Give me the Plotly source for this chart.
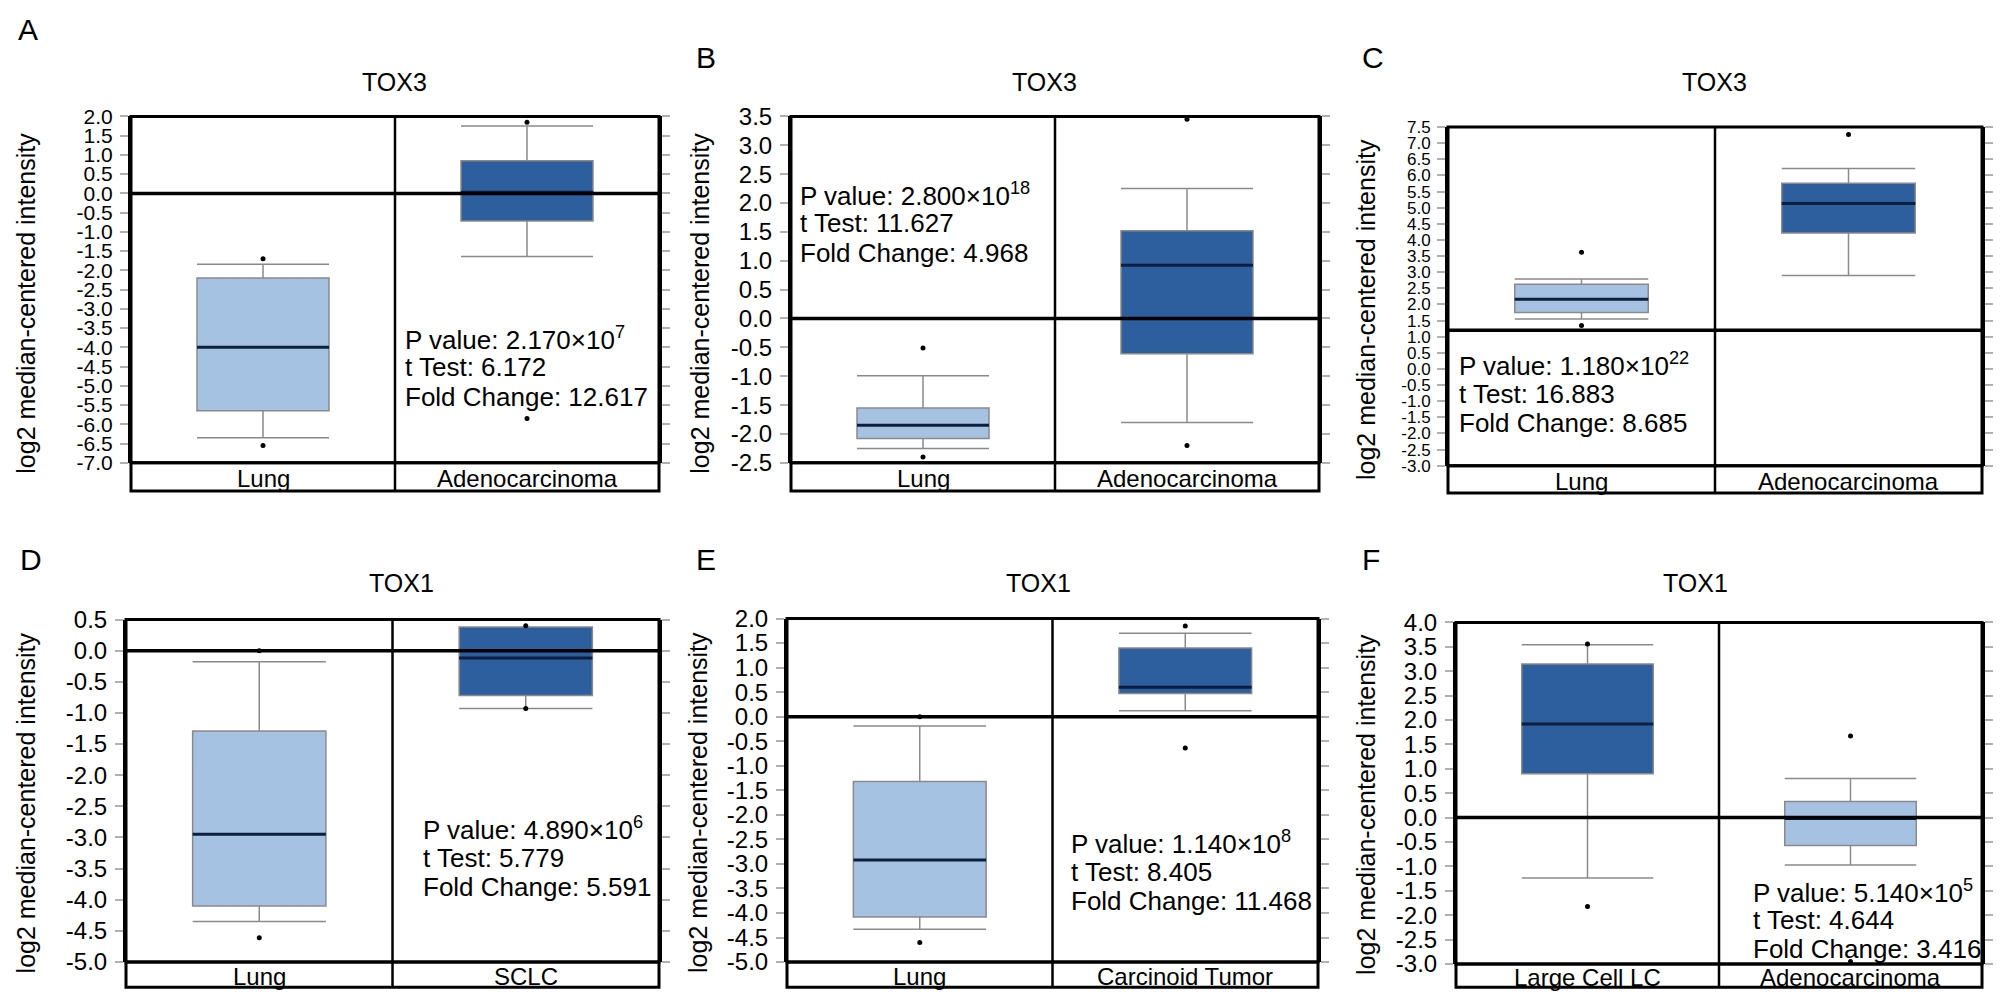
import plotly.graph_objects as go

W, H = 2008, 1005
FONT = "Liberation Sans, Arial, sans-serif"

# ---------------- data ----------------
panel_letters = ["A", "B", "C", "D", "E", "F"]
genes = ["TOX3", "TOX3", "TOX3", "TOX1", "TOX1", "TOX1"]
categories = [
    ["Lung", "Adenocarcinoma"],
    ["Lung", "Adenocarcinoma"],
    ["Lung", "Adenocarcinoma"],
    ["Lung", "SCLC"],
    ["Lung", "Carcinoid Tumor"],
    ["Large Cell LC", "Adenocarcinoma"],
]
q1 = [[-5.65, -0.72], [-2.08, -0.61], [1.75, 4.22], [-4.10, -0.72], [-4.08, 0.47], [0.90, -0.57]]
medians = [[-4.00, 0.03], [-1.85, 0.92], [2.16, 5.13], [-2.95, -0.12], [-2.92, 0.60], [1.92, -0.02]]
q3 = [[-2.20, 0.85], [-1.55, 1.52], [2.63, 5.76], [-1.29, 0.38], [-1.32, 1.40], [3.15, 0.33]]
lower_whisker = [[-6.35, -1.64], [-2.25, -1.80], [1.55, 2.90], [-4.35, -0.93], [-4.33, 0.12], [-1.24, -0.97]]
upper_whisker = [[-1.84, 1.75], [-0.99, 2.25], [2.79, 6.22], [-0.18, 0.38], [-0.19, 1.70], [3.54, 0.80]]
outliers = [
    [[-1.70, -6.55], [1.85, -5.85]],
    [[-0.51, -2.40], [3.45, -2.20]],
    [[3.62, 1.35], [7.27]],
    [[0.00, -4.61], [0.40, -0.93]],
    [[0.00, -4.60], [1.85, -0.64]],
    [[3.56, -1.82], [1.67, -2.95]],
]
box_shade = [
    ["light", "dark"], ["light", "dark"], ["light", "dark"],
    ["light", "dark"], ["light", "dark"], ["dark", "light"],
]
p_values = ["2.170×10<sup>7</sup>", "2.800×10<sup>18</sup>", "1.180×10<sup>22</sup>",
            "4.890×10<sup>6</sup>", "1.140×10<sup>8</sup>", "5.140×10<sup>5</sup>"]
t_tests = ["6.172", "11.627", "16.883", "5.779", "8.405", "4.644"]
fold_changes = ["12.617", "4.968", "8.685", "5.591", "11.468", "3.416"]
y_ranges = [[-7.0, 2.0], [-2.5, 3.5], [-3.0, 7.5], [-5.0, 0.5], [-5.0, 2.0], [-3.0, 4.0]]
ref_lines = [0.0, 0.0, 1.2, 0.0, 0.0, 0.0]

# ---------------- layout geometry (pixels) ----------------
# left, right, top, axis bottom, category-row top, category-row bottom
frames = [
    (123, 651, 97, 453, 453, 482),
    (783, 1311, 97, 453, 453, 482),
    (1440, 1974, 108, 456, 456, 484),
    (118, 651, 614, 966, 966, 992),
    (779, 1310, 613, 966, 966, 992),
    (1448, 1974, 617, 968, 968, 992),
]
letter_pos = [(8, 8), (686, 36), (1352, 36), (10, 552), (686, 552), (1352, 552)]
title_pos = [(386, 62), (1036, 62), (1706, 62), (393, 577), (1030, 577), (1687, 577)]
stat_pos = [(395, 325), (790, 177), (1449, 352), (413, 829), (1061, 843), (1743, 893)]
STAT_SPACING = 30
ytitle_x = [18, 692, 1358, 18, 690, 1358]
tick_font = [21, 24, 17, 24, 24, 24]

COLORS = {"light": "#a6c2e2", "dark": "#2d5e9e"}
MEDIAN_COLOR = "#0d1f3f"
WHISKER_COLOR = "#8a8a8a"


def px_x(v):
    return v / W


def px_y(v):
    return 1 - v / H


fig = go.Figure()
shapes = []
annotations = []


def text_ann(text, x, y, size, xref="paper", xanchor="center", angle=0):
    return dict(text=text, x=x, y=y, xref=xref, yref="paper", xanchor=xanchor,
                yanchor="middle", showarrow=False, textangle=angle,
                font=dict(family=FONT, size=size, color="black"))


for k in range(6):
    xa = "x" if k == 0 else f"x{k+1}"
    ya = "y" if k == 0 else f"y{k+1}"
    left, right, top, abot, rtop, rbot = frames[k]
    for i in range(2):
        color = COLORS[box_shade[k][i]]
        fig.add_trace(go.Box(
            x=[i], q1=[q1[k][i]], median=[medians[k][i]], q3=[q3[k][i]],
            lowerfence=[lower_whisker[k][i]], upperfence=[upper_whisker[k][i]],
            fillcolor=color, line=dict(color=WHISKER_COLOR, width=1.5),
            width=0.5, whiskerwidth=1, boxpoints=False, showlegend=False,
            hoverinfo="skip", xaxis=xa, yaxis=ya,
        ))
        fig.add_trace(go.Scatter(
            x=[i - 0.25, i + 0.25], y=[medians[k][i], medians[k][i]],
            mode="lines", line=dict(color=MEDIAN_COLOR, width=3),
            showlegend=False, hoverinfo="skip", xaxis=xa, yaxis=ya,
        ))
        fig.add_trace(go.Scatter(
            x=[i] * len(outliers[k][i]), y=outliers[k][i], mode="markers",
            marker=dict(color="black", size=5), showlegend=False,
            hoverinfo="skip", xaxis=xa, yaxis=ya,
        ))
        # category label inside the category row
        annotations.append(text_ann(categories[k][i], i, px_y((rtop + rbot) / 2 + 2),
                                    24, xref=xa))

    lo, hi = y_ranges[k]
    n = int(round((hi - lo) / 0.5))
    tickvals = [lo + 0.5 * j for j in range(n + 1)]
    ticktext = [f"{v:.1f}" for v in tickvals]

    fig.layout[("xaxis" if k == 0 else f"xaxis{k+1}")] = dict(
        domain=[px_x(left), px_x(right)], range=[-0.5, 1.5], anchor=ya,
        visible=False, showgrid=False, zeroline=False, fixedrange=True,
    )
    fig.layout[("yaxis" if k == 0 else f"yaxis{k+1}")] = dict(
        domain=[px_y(abot), px_y(top)], range=[lo, hi], anchor=xa,
        tickvals=tickvals, ticktext=ticktext, ticks="outside", ticklen=8,
        tickcolor="#b0b0b0", tickwidth=1.5, mirror="ticks", showline=True,
        linecolor="black", linewidth=3, showgrid=False, zeroline=False,
        tickfont=dict(family=FONT, size=tick_font[k], color="black"),
        ticklabelstandoff=3, fixedrange=True,
    )

    # data-area frame
    shapes.append(dict(type="rect", xref=f"{xa} domain", yref="paper",
                       x0=0, x1=1, y0=px_y(rtop), y1=px_y(top),
                       line=dict(color="black", width=3), layer="above"))
    # category row box
    shapes.append(dict(type="rect", xref=f"{xa} domain", yref="paper",
                       x0=0, x1=1, y0=px_y(rbot), y1=px_y(rtop),
                       line=dict(color="black", width=3), layer="above"))
    # vertical divider through data area and category row
    shapes.append(dict(type="line", xref=xa, yref="paper", x0=0.5, x1=0.5,
                       y0=px_y(rbot), y1=px_y(top),
                       line=dict(color="black", width=2.5), layer="above"))
    # reference line
    shapes.append(dict(type="line", xref=f"{xa} domain", yref=ya, x0=0, x1=1,
                       y0=ref_lines[k], y1=ref_lines[k],
                       line=dict(color="black", width=3.5), layer="above"))

    annotations.append(text_ann(panel_letters[k], px_x(letter_pos[k][0]),
                                px_y(letter_pos[k][1]), 30, xanchor="left"))
    annotations.append(text_ann(genes[k], px_x(title_pos[k][0]),
                                px_y(title_pos[k][1]), 25))
    annotations.append(text_ann("log2 median-centered intensity", px_x(ytitle_x[k]),
                                px_y((top + rbot) / 2), 25, angle=-90))
    stat_lines = [f"P value: {p_values[k]}", f"t Test: {t_tests[k]}",
                  f"Fold Change: {fold_changes[k]}"]
    for j, line in enumerate(stat_lines):
        annotations.append(text_ann(line, px_x(stat_pos[k][0]),
                                    px_y(stat_pos[k][1] + j * STAT_SPACING), 26,
                                    xanchor="left"))

fig.update_layout(
    width=W, height=H, margin=dict(l=0, r=0, t=0, b=0),
    paper_bgcolor="white", plot_bgcolor="white",
    shapes=shapes, annotations=annotations, showlegend=False,
)

fig.write_html("out.html", config={"displayModeBar": False})
